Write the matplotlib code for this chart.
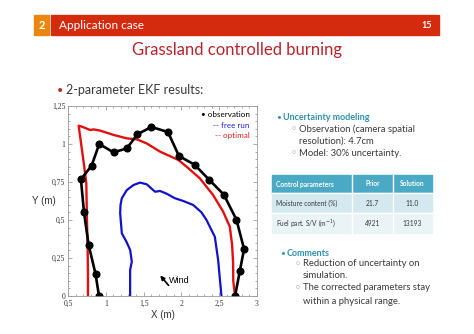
import matplotlib.pyplot as plt
from matplotlib.patches import Rectangle
from matplotlib.ticker import MultipleLocator, FuncFormatter

# Beobachtung (Punkte)
obs_x = [0.91, 0.865, 0.772, 0.711, 0.671, 0.812, 0.913, 1.102, 1.278, 1.418,
         1.603, 1.822, 1.968, 2.174, 2.367, 2.561, 2.728, 2.829, 2.772, 2.71]
obs_y = [0.0, 0.143, 0.338, 0.553, 0.768, 0.857, 1.0, 0.945, 0.971, 1.064,
         1.112, 1.079, 0.921, 0.864, 0.765, 0.667, 0.502, 0.309, 0.162, 0.0]

# optimale Loesung (rot)
opt_x = [0.764, 0.764, 0.76, 0.75, 0.742, 0.715, 0.685, 0.663, 0.641, 0.685,
         0.794, 0.838, 0.926, 1.10, 1.278, 1.41, 1.54, 1.717, 1.96, 2.068,
         2.244, 2.42, 2.552, 2.64, 2.67, 2.684, 2.686, 2.71]
opt_y = [0.0, 0.15, 0.30, 0.52, 0.741, 0.85, 0.96, 1.04, 1.12, 1.114,
         1.092, 1.096, 1.088, 1.06, 1.037, 1.031, 1.004, 0.95, 0.895, 0.851,
         0.774, 0.664, 0.555, 0.456, 0.34, 0.22, 0.10, 0.0]

# freier Lauf (blau)
free_x = [1.322, 1.322, 1.344, 1.322, 1.27, 1.212, 1.19, 1.195, 1.212, 1.278,
          1.366, 1.453, 1.541, 1.651, 1.717, 1.805, 1.915, 2.025, 2.156, 2.266,
          2.332, 2.442, 2.486, 2.508, 2.53]
free_y = [0.0, 0.171, 0.226, 0.303, 0.36, 0.412, 0.544, 0.60, 0.643, 0.697,
          0.730, 0.746, 0.735, 0.686, 0.691, 0.673, 0.643, 0.625, 0.599, 0.55,
          0.50, 0.39, 0.237, 0.116, 0.0]

legend_labels = ["\u2022 observation", "-- free run", "-- optimal"]

table_rows = [["Control parameters", "Prior", "Solution"],
              ["Moisture content (%)", "21.7", "11.0"],
              ["Fuel part. S/V (m$^{-1}$)", "4921", "13193"]]

SANS = ["Lato", "DejaVu Sans"]
TEAL = "#2f8fb0"
GRAU = "#3a3a3a"

fig = plt.figure(figsize=(4.74, 3.34), dpi=100)

# Folien-Ebene in Pixelkoordinaten
bg = fig.add_axes([0, 0, 1, 1])
bg.set_xlim(0, 474)
bg.set_ylim(334, 0)
bg.axis("off")

bg.add_patch(Rectangle((34, 15), 15, 20, color="#e8860f"))
bg.add_patch(Rectangle((51, 15), 388, 20, color="#d42a0e"))
bg.text(41.5, 25.5, "2", color="white", fontsize=8, fontweight="bold",
        ha="center", va="center", family=SANS)
bg.text(59, 25.5, "Application case", color="white", fontsize=8.5,
        ha="left", va="center", family=SANS)
bg.text(432, 25.5, "15", color="white", fontsize=6.5, fontweight="bold",
        ha="right", va="center", family=SANS)
bg.text(237, 50, "Grassland controlled burning", color="#b8232b",
        fontsize=12, ha="center", va="center", family=SANS)
bg.text(57, 90, "\u2022", color="#c0282d", fontsize=8, ha="left",
        va="center", family=SANS)
bg.text(66, 90, "2-parameter EKF results:", color=GRAU, fontsize=9,
        ha="left", va="center", family=SANS)

# rechte Spalte
bg.text(276, 117, "\u2022", color=TEAL, fontsize=6, va="center", family=SANS)
bg.text(283, 117, "Uncertainty modeling", color=TEAL, fontsize=6.5,
        fontweight="bold", va="center", family=SANS)
for yy, txt, bullet in [(129, "Observation (camera spatial", True),
                        (141, "resolution): 4.7cm", False),
                        (153, "Model: 30% uncertainty.", True)]:
    if bullet:
        bg.text(292, yy, "\u25cb", color="#b0b0b0", fontsize=4.5,
                va="center", family=SANS)
    bg.text(299, yy, txt, color=GRAU, fontsize=6.8, va="center", family=SANS)

col_x = [272, 352, 393, 432]
row_y = [175, 193, 213, 233]
row_col = ["#4aa9c4", "#d3e8ef", "#eaf3f6"]
for r, row in enumerate(table_rows):
    bg.add_patch(Rectangle((col_x[0], row_y[r]), col_x[3] - col_x[0],
                           row_y[r + 1] - row_y[r], color=row_col[r]))
    for c, txt in enumerate(row):
        yy = (row_y[r] + row_y[r + 1]) / 2
        if c == 0:
            bg.text(col_x[0] + 4, yy, txt, fontsize=4.8, va="center",
                    ha="left", family=SANS,
                    color="white" if r == 0 else GRAU,
                    fontweight="bold" if r == 0 else "normal")
        else:
            bg.text((col_x[c] + col_x[c + 1]) / 2, yy, txt, fontsize=4.8,
                    va="center", ha="center", family=SANS,
                    color="white" if r == 0 else GRAU,
                    fontweight="bold" if r == 0 else "normal")
for cx in col_x[1:3]:
    bg.plot([cx, cx], [row_y[0], row_y[3]], color="white", lw=1)
for ry in row_y[1:3]:
    bg.plot([col_x[0], col_x[3]], [ry, ry], color="white", lw=1)

bg.text(280, 253, "\u2022", color=TEAL, fontsize=6, va="center", family=SANS)
bg.text(287, 253, "Comments", color=TEAL, fontsize=6.5, fontweight="bold",
        va="center", family=SANS)
for yy, txt, bullet in [(264, "Reduction of uncertainty on", True),
                        (276, "simulation.", False),
                        (288, "The corrected parameters stay", True),
                        (301, "within a physical range.", False)]:
    if bullet:
        bg.text(296, yy, "\u25cb", color="#b0b0b0", fontsize=4.5,
                va="center", family=SANS)
    bg.text(303, yy, txt, color=GRAU, fontsize=6.8, va="center", family=SANS)

# Diagramm
ax = fig.add_axes([68 / 474, 38 / 334, 189 / 474, 190 / 334])
ax.plot(free_x, free_y, color="#1212c8", lw=1.6)
ax.plot(opt_x, opt_y, color="#e01010", lw=1.7)
ax.plot(obs_x, obs_y, color="black", lw=1.9, marker="o", markersize=4.8)
ax.set_xlim(0.5, 3)
ax.set_ylim(0, 1.25)
ax.xaxis.set_major_locator(MultipleLocator(0.5))
ax.xaxis.set_minor_locator(MultipleLocator(0.1))
ax.yaxis.set_major_locator(MultipleLocator(0.25))
ax.yaxis.set_minor_locator(MultipleLocator(0.05))
komma = FuncFormatter(lambda v, p: ("%g" % v).replace(".", ","))
ax.xaxis.set_major_formatter(komma)
ax.yaxis.set_major_formatter(komma)
ax.tick_params(which="both", direction="in", top=True, right=True,
               colors="#888888", labelcolor="#333333", labelsize=5.5,
               pad=2, width=0.5)
ax.tick_params(axis="x", pad=3)
ax.tick_params(which="major", length=3)
ax.tick_params(which="minor", length=1.5)
for lbl in ax.get_xticklabels() + ax.get_yticklabels():
    lbl.set_family("Liberation Serif")
for sp in ax.spines.values():
    sp.set_color("#999999")
    sp.set_linewidth(0.6)
ax.set_xlabel("X (m)", fontsize=7, color="#333333", labelpad=1,
              family="Liberation Sans")
ax.set_ylabel("Y (m)", fontsize=7, color="#333333", rotation=0,
              labelpad=6, va="center", family="Liberation Sans")

for i, (lab, col) in enumerate(zip(legend_labels,
                                   ["black", "#2020d0", "#e02020"])):
    ax.text(0.96, 0.955 - i * 0.055, lab, transform=ax.transAxes,
            ha="right", va="center", fontsize=5.8, color=col, family=SANS)

ax.annotate("", xy=(1.72, 0.135), xytext=(1.83, 0.07),
            arrowprops=dict(arrowstyle="-|>", color="black", lw=1.2,
                            mutation_scale=6, shrinkA=0, shrinkB=0))
ax.text(1.83, 0.10, "Wind", fontsize=6.5, color="black", ha="left",
        va="center", family="Liberation Sans")

fig.savefig("out.png", dpi=100)
